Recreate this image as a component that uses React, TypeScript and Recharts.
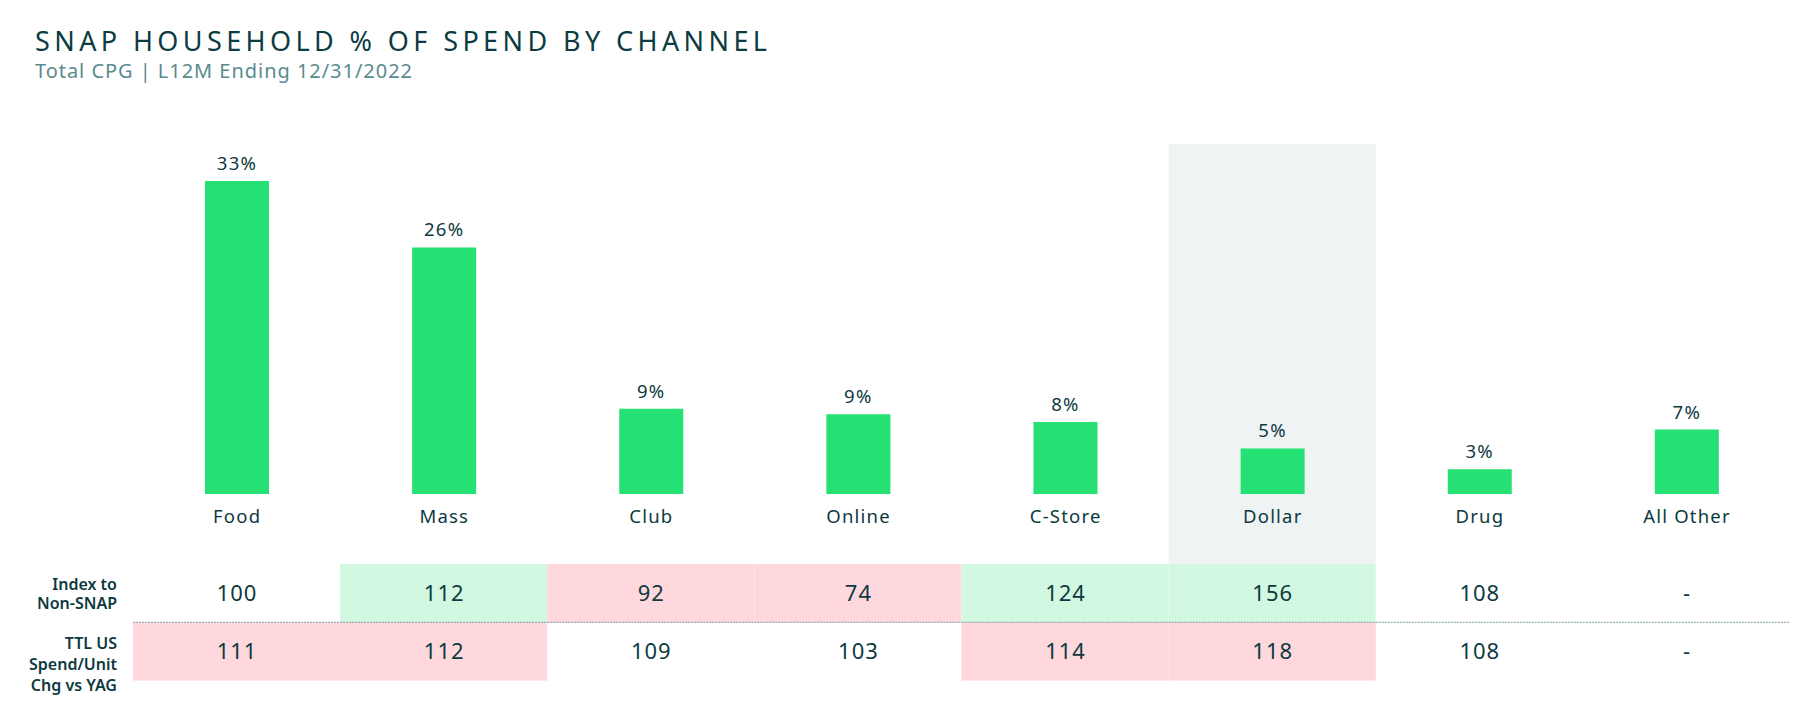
import React from 'react';
import { BarChart, Bar, XAxis, YAxis, LabelList, ReferenceArea } from 'recharts';

const channels = ['Food', 'Mass', 'Club', 'Online', 'C-Store', 'Dollar', 'Drug', 'All Other'];
const shareValues = [33, 26, 9.0, 8.4, 7.6, 4.8, 2.6, 6.8];
const shareLabels = ['33%', '26%', '9%', '9%', '8%', '5%', '3%', '7%'];
const indexToNonSnap = ['100', '112', '92', '74', '124', '156', '108', '-'];
const indexStatus = ['none', 'good', 'bad', 'bad', 'good', 'good', 'none', 'none'];
const spendPerUnitChg = ['111', '112', '109', '103', '114', '118', '108', '-'];
const spendStatus = ['bad', 'bad', 'none', 'none', 'bad', 'bad', 'none', 'none'];
const highlightChannel = 'Dollar';

const TITLE = 'SNAP HOUSEHOLD % OF SPEND BY CHANNEL';
const SUBTITLE = 'Total CPG | L12M Ending 12/31/2022';

const W = 1800;
const H = 719;
const MARGIN = { top: 144, right: 10, bottom: 195, left: 133 };
const BAND = (W - MARGIN.left - MARGIN.right) / channels.length;

const DARK = '#0d3a40';
const FONT = '"Noto Sans", Lato, sans-serif';
const statusFill: Record<string, string> = { good: '#d3f8e1', bad: '#ffd8de', none: 'transparent' };

const data = channels.map((c, i) => ({ channel: c, share: shareValues[i], label: shareLabels[i] }));

const TableTick = (props: any) => {
  const { x, y, payload } = props;
  const i = channels.indexOf(payload.value);
  const left = x - BAND / 2;
  const r1Top = y + 70;
  const rowH = 58.3;
  const r2Top = r1Top + rowH;
  return (
    <g>
      <text x={x + 0.6} y={y + 23} dy="0.35em" textAnchor="middle" fontSize={18.5} letterSpacing={1.2} fill={DARK} fontFamily={FONT}>
        {payload.value}
      </text>
      <rect x={left} y={r1Top} width={BAND} height={rowH} fill={statusFill[indexStatus[i]]} />
      <rect x={left} y={r2Top} width={BAND} height={rowH} fill={statusFill[spendStatus[i]]} />
      <line x1={left} x2={left + BAND} y1={r2Top} y2={r2Top} stroke="#7f999b" strokeWidth={1} strokeDasharray="2 1" />
      <text x={x + 0.5} y={r1Top + rowH / 2} dy="0.35em" textAnchor="middle" fontSize={22} letterSpacing={1} fill={DARK} fontFamily={FONT}>
        {indexToNonSnap[i]}
      </text>
      <text x={x + 0.5} y={r2Top + rowH / 2} dy="0.35em" textAnchor="middle" fontSize={22} letterSpacing={1} fill={DARK} fontFamily={FONT}>
        {spendPerUnitChg[i]}
      </text>
      {i === 0 && (
        <g fontSize={16} fontWeight={600} fill={DARK} fontFamily={FONT} textAnchor="end">
          <text x={left - 16} y={y + 90} dy="0.35em">Index to</text>
          <text x={left - 16} y={y + 109} dy="0.35em">Non-SNAP</text>
          <text x={left - 16} y={y + 149} dy="0.35em">TTL US</text>
          <text x={left - 16} y={y + 170} dy="0.35em">Spend/Unit</text>
          <text x={left - 16} y={y + 191} dy="0.35em">Chg vs YAG</text>
        </g>
      )}
    </g>
  );
};

const BandShape = (props: any) => {
  const { x, y, width, height } = props;
  return <rect x={x} y={y} width={width} height={height + 70} fill="#eff3f4" />;
};

export default function App() {
  return (
    <div style={{ position: 'absolute', left: 0, top: 0, width: W, height: H, background: '#fff' }}>
      <BarChart width={W} height={H} data={data} margin={MARGIN}>
        <XAxis
          dataKey="channel"
          height={30}
          axisLine={false}
          tickLine={false}
          tickSize={0}
          tickMargin={0}
          interval={0}
          tick={<TableTick />}
        />
        <YAxis hide domain={[0, 36.9]} />
        <ReferenceArea x1={highlightChannel} x2={highlightChannel} ifOverflow="visible" shape={<BandShape />} />
        <Bar dataKey="share" fill="#25e072" barSize={64} isAnimationActive={false}>
          <LabelList dataKey="label" position="top" offset={11} fill={DARK} fontSize={18.5} letterSpacing={1.3} fontFamily={FONT} />
        </Bar>
      </BarChart>
      <svg width={W} height={100} style={{ position: 'absolute', left: 0, top: 0, pointerEvents: 'none' }}>
        <text x={35} y={51} fontSize={27} fill="#0c3b42" fontFamily={FONT} textLength={732} lengthAdjust="spacing">
          {TITLE}
        </text>
        <text x={35} y={78} fontSize={20} fill="#5a8b8f" fontFamily={FONT} textLength={377} lengthAdjust="spacing">
          {SUBTITLE}
        </text>
      </svg>
    </div>
  );
}
